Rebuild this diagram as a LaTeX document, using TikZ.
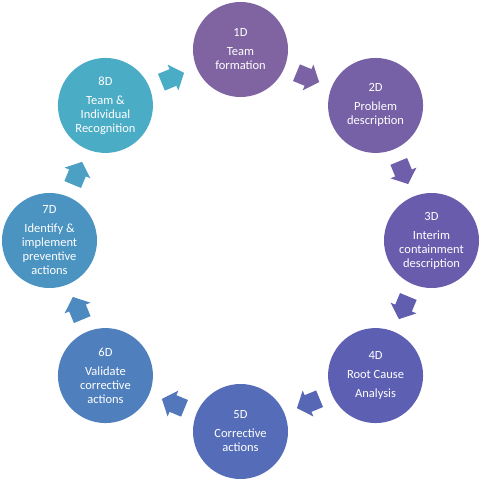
\documentclass[tikz,border=0pt]{standalone}
\usepackage{fontspec}
\setmainfont{Carlito}
\usetikzlibrary{calc}
\definecolor{c1}{HTML}{8064A2}
\definecolor{c2}{HTML}{7660A6}
\definecolor{c3}{HTML}{695CAC}
\definecolor{c4}{HTML}{5C5FB2}
\definecolor{c5}{HTML}{556DB9}
\definecolor{c6}{HTML}{4F80BD}
\definecolor{c7}{HTML}{4B94C2}
\definecolor{c8}{HTML}{4BACC6}
\begin{document}
\begin{tikzpicture}[x=1pt,y=1pt,
  stepcircle/.style={circle,minimum size=95pt,inner sep=0pt,text=white,align=center,
    font=\fontsize{12.5}{14}\selectfont},
]
\def\blockarrow#1#2#3#4{%
  \fill[#4,shift={($(#1)!0.5!(#2)$)},rotate=#3]
    (-12.5,-9) -- (0,-9) -- (0,-14) -- (12,0) -- (0,14) -- (0,9) -- (-12.5,9) -- cycle;}
\useasboundingbox (0,0) rectangle (480,-481);
\coordinate (c) at (240.5,-240.5);
\node[stepcircle,fill=c1] (n1) at ([shift={(90:191)}]c) {1D\\[5pt]Team\\formation};
\node[stepcircle,fill=c2] (n2) at ([shift={(45:191)}]c) {2D\\[5pt]Problem\\description};
\node[stepcircle,fill=c3] (n3) at ([shift={(0:191)}]c) {3D\\[5pt]Interim\\containment\\description};
\node[stepcircle,fill=c4] (n4) at ([shift={(-45:191)}]c) {4D\\[5pt]Root Cause\\[5pt]Analysis};
\node[stepcircle,fill=c5] (n5) at ([shift={(-90:191)}]c) {5D\\[5pt]Corrective\\actions};
\node[stepcircle,fill=c6] (n6) at ([shift={(-135:191)}]c) {6D\\[5pt]Validate\\corrective\\actions};
\node[stepcircle,fill=c7] (n7) at ([shift={(180:191)}]c) {7D\\[5pt]Identify \&\\implement\\preventive\\actions};
\node[stepcircle,fill=c8] (n8) at ([shift={(135:191)}]c) {8D\\[5pt]Team \&\\Individual\\Recognition};
\blockarrow{n1}{n2}{-22.5}{c1!50!c2}
\blockarrow{n2}{n3}{-67.5}{c2!50!c3}
\blockarrow{n3}{n4}{-112.5}{c3!50!c4}
\blockarrow{n4}{n5}{-157.5}{c4!50!c5}
\blockarrow{n5}{n6}{-202.5}{c5!50!c6}
\blockarrow{n6}{n7}{-247.5}{c6!50!c7}
\blockarrow{n7}{n8}{-292.5}{c7!50!c8}
\blockarrow{n8}{n1}{-337.5}{c8}
\end{tikzpicture}
\end{document}
